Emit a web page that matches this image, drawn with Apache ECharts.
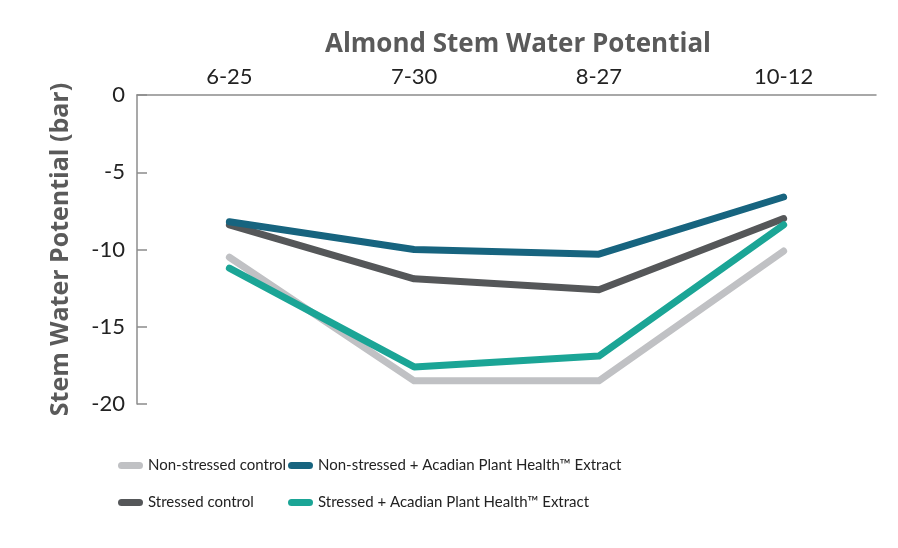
<!DOCTYPE html>
<html><head><meta charset="utf-8">
<script src="https://cdn.jsdelivr.net/npm/echarts@6/dist/echarts.min.js"></script>
<style>html,body{margin:0;padding:0;background:#fff}#c{width:898px;height:548px}</style>
</head><body><div id="c"></div>
<script>
const categories = ['6-25', '7-30', '8-27', '10-12'];
const nonStressedControl = [-10.5, -18.5, -18.5, -10.1];
const nonStressedExtract = [-8.2, -10.0, -10.3, -6.6];
const stressedControl = [-8.4, -11.9, -12.6, -8.0];
const stressedExtract = [-11.2, -17.6, -16.9, -8.4];
const yTicks = [0, -5, -10, -15, -20];

const FONT = 'Lato';
const HEAD = '"Open Sans", Lato, sans-serif';
const chart = echarts.init(document.getElementById('c'));
function ser(name, data, color) {
  return { name, type: 'line', data, symbol: 'none', lineStyle: { width: 7, color, cap: 'round', join: 'round' }, itemStyle: { color } };
}
const icon = 'path://M3.5,0 L21.5,0 A3.5,3.5 0 0 1 21.5,7 L3.5,7 A3.5,3.5 0 0 1 3.5,0 Z';
const legText = { fontFamily: FONT, fontSize: 15, color: '#222' };
chart.setOption({
  animation: false,
  textStyle: { fontFamily: FONT },
  title: { text: 'Almond Stem Water Potential', left: 513, top: 27, textAlign: 'center',
    textStyle: { fontFamily: HEAD, fontSize: 26, fontWeight: 'bold', color: '#5a5a5a' } },
  grid: { left: 137, right: 22, top: 95, bottom: 144 },
  legend: [
    { data: ['Non-stressed control', 'Stressed control'], orient: 'vertical', left: 118, top: 458, padding: 0, itemGap: 22,
      icon, itemWidth: 25, itemHeight: 7, textStyle: legText },
    { data: ['Non-stressed + Acadian Plant Health™ Extract', 'Stressed + Acadian Plant Health™ Extract'], orient: 'vertical', left: 288, top: 458, padding: 0, itemGap: 22,
      icon, itemWidth: 25, itemHeight: 7, textStyle: legText }
  ],
  xAxis: { type: 'category', data: categories, position: 'top', boundaryGap: true,
    axisLine: { lineStyle: { color: '#8c8c8c', width: 1.5 } },
    axisTick: { alignWithLabel: true, inside: true, length: 10, lineStyle: { color: '#8c8c8c', width: 1.5 } },
    axisLabel: { fontFamily: FONT, fontSize: 22, color: '#222', margin: 7 } },
  yAxis: { type: 'value', min: -20, max: 0, interval: 5,
    name: 'Stem Water Potential (bar)', nameLocation: 'middle', nameRotate: 90, nameGap: 64,
    nameTextStyle: { fontFamily: HEAD, fontSize: 25, fontWeight: 'bold', color: '#5a5a5a' },
    axisLine: { show: true, lineStyle: { color: '#8c8c8c', width: 1.5 } },
    axisTick: { show: true, inside: true, length: 10, lineStyle: { color: '#8c8c8c', width: 1.5 } },
    splitLine: { show: false },
    axisLabel: { fontFamily: FONT, fontSize: 22, color: '#222', margin: 12,
      formatter: v => yTicks.includes(v) ? String(v) : '' } },
  series: [
    ser('Non-stressed control', nonStressedControl, '#c0c1c4'),
    ser('Stressed control', stressedControl, '#555759'),
    ser('Stressed + Acadian Plant Health™ Extract', stressedExtract, '#1ba596'),
    ser('Non-stressed + Acadian Plant Health™ Extract', nonStressedExtract, '#17647f')
  ]
});
</script></body></html>
